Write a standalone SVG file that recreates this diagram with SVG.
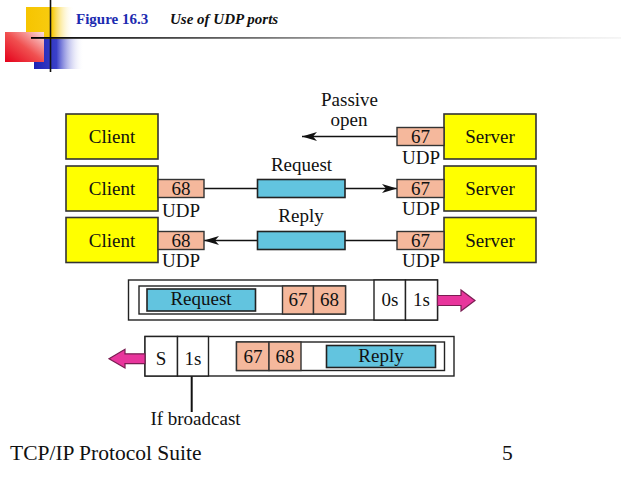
<svg xmlns="http://www.w3.org/2000/svg" width="638" height="478" viewBox="0 0 638 478">
<defs>
<linearGradient id="gY" x1="0" y1="0" x2="1" y2="0"><stop offset="0" stop-color="#f6c400"/><stop offset="0.55" stop-color="#f8cc10"/><stop offset="1" stop-color="#ffffff" stop-opacity="0"/></linearGradient>
<linearGradient id="gR" x1="0" y1="1" x2="1" y2="0"><stop offset="0" stop-color="#e4001a"/><stop offset="0.5" stop-color="#f05050"/><stop offset="1" stop-color="#fbe0e0"/></linearGradient>
<linearGradient id="gB" x1="0" y1="0" x2="1" y2="0"><stop offset="0" stop-color="#1c22b4"/><stop offset="0.45" stop-color="#3a40c8"/><stop offset="1" stop-color="#ffffff" stop-opacity="0"/></linearGradient>
<linearGradient id="gL" x1="0" y1="0" x2="1" y2="0"><stop offset="0" stop-color="#000"/><stop offset="0.4" stop-color="#777"/><stop offset="1" stop-color="#ddd" stop-opacity="0.3"/></linearGradient>
<marker id="ah" markerUnits="userSpaceOnUse" markerWidth="15" markerHeight="10" refX="15" refY="5" orient="auto"><path d="M0,0.5 L15,5 L0,9.5 L4,5 z" fill="#111"/></marker>
<style>
.t{font-family:"Liberation Serif","Times New Roman",serif;font-size:19px;fill:#111;text-anchor:middle}
.box{fill:#ffff00;stroke:#333;stroke-width:1.6}
.port{fill:#f5b89c;stroke:#333;stroke-width:1.4}
.bar{fill:#62c4df;stroke:#222;stroke-width:1.6}
.frm{fill:#fff;stroke:#222;stroke-width:1.4}
.ln{stroke:#111;stroke-width:1.6;fill:none}
.pk{fill:#e8359c;stroke:#7a1d52;stroke-width:1.2}
</style>
</defs>
<rect width="638" height="478" fill="#fff"/>
<g id="decoration">
<rect x="26" y="7" width="48" height="33" fill="url(#gY)"/>
<rect x="34" y="39" width="50" height="30" fill="url(#gB)"/>
<rect x="5" y="32" width="39" height="30" fill="url(#gR)"/>
<line x1="50.5" y1="0" x2="50.5" y2="72" stroke="#111" stroke-width="1.6"/>
<rect x="31" y="37" width="590" height="1.8" fill="url(#gL)"/>
</g>
<g id="title">
<text x="76" y="24" font-family="Liberation Serif,serif" font-size="15" font-weight="bold" fill="#1c2bb0">Figure 16.3</text>
<text x="170" y="24" font-family="Liberation Serif,serif" font-size="15" font-weight="bold" font-style="italic" fill="#111">Use of UDP ports</text>
</g>
<g id="connectors">
<line class="ln" x1="397" y1="136.5" x2="302" y2="136.5" marker-end="url(#ah)"/>
<line class="ln" x1="204" y1="188.5" x2="258" y2="188.5"/>
<line class="ln" x1="345" y1="188.5" x2="397" y2="188.5" marker-end="url(#ah)"/>
<line class="ln" x1="397" y1="240.5" x2="344" y2="240.5"/>
<line class="ln" x1="258" y1="240.5" x2="204" y2="240.5" marker-end="url(#ah)"/>
<line x1="191.7" y1="376" x2="191.7" y2="412" stroke="#111" stroke-width="2"/>
</g>
<g id="client1"><rect class="box" x="66" y="114" width="92" height="45"/><text class="t" x="112" y="143">Client</text></g>
<g id="client2"><rect class="box" x="66" y="166" width="92" height="45"/><text class="t" x="112" y="195">Client</text>
<rect class="port" x="158" y="179.5" width="46" height="18"/><text class="t" x="181" y="195">68</text><text class="t" x="181" y="217">UDP</text></g>
<g id="client3"><rect class="box" x="66" y="217.5" width="92" height="45"/><text class="t" x="112" y="246.5">Client</text>
<rect class="port" x="158" y="231.5" width="46" height="18"/><text class="t" x="181" y="247">68</text><text class="t" x="181" y="267">UDP</text></g>
<g id="server1"><rect class="box" x="444" y="114" width="92" height="45"/><text class="t" x="490" y="143">Server</text>
<rect class="port" x="397" y="127.5" width="47" height="18"/><text class="t" x="420.5" y="143">67</text><text class="t" x="421" y="163.5">UDP</text></g>
<g id="server2"><rect class="box" x="444" y="166" width="92" height="45"/><text class="t" x="490" y="195">Server</text>
<rect class="port" x="397" y="179.5" width="47" height="18"/><text class="t" x="420.5" y="195">67</text><text class="t" x="421" y="215">UDP</text></g>
<g id="server3"><rect class="box" x="444" y="217.5" width="92" height="45"/><text class="t" x="490" y="246.5">Server</text>
<rect class="port" x="397" y="231.5" width="47" height="18"/><text class="t" x="420.5" y="247">67</text><text class="t" x="421" y="267">UDP</text></g>
<g id="passive-label"><text class="t" x="349.5" y="106">Passive</text><text class="t" x="349" y="126">open</text></g>
<g id="request-msg"><rect class="bar" x="257.5" y="179.5" width="87.5" height="18"/><text class="t" x="301.5" y="171">Request</text></g>
<g id="reply-msg"><rect class="bar" x="257.5" y="231.5" width="87.5" height="18"/><text class="t" x="301" y="222">Reply</text></g>
<g id="frame1">
<rect class="frm" x="128.5" y="280" width="309" height="40"/>
<rect class="frm" x="139" y="286" width="206.5" height="28"/>
<rect class="bar" x="147" y="289" width="108.5" height="22"/>
<text class="t" x="201" y="304.5">Request</text>
<rect class="port" x="282.5" y="286" width="31" height="28"/><text class="t" x="298" y="305.5">67</text>
<rect class="port" x="313.5" y="286" width="32" height="28"/><text class="t" x="329.5" y="305.5">68</text>
<rect class="frm" x="374" y="280" width="31.5" height="40"/><text class="t" x="390" y="306">0s</text>
<rect class="frm" x="405.5" y="280" width="32" height="40"/><text class="t" x="421.5" y="306">1s</text>
<polygon class="pk" points="437.5,295.5 461,295.5 461,290 475,300.5 461,311 461,305.5 437.5,305.5"/>
</g>
<g id="frame2">
<rect class="frm" x="145" y="336.5" width="309" height="39.5"/>
<rect class="frm" x="236.5" y="342" width="208" height="28.5"/>
<rect class="port" x="236.5" y="342" width="32.5" height="28.5"/><text class="t" x="253" y="362.5">67</text>
<rect class="port" x="269" y="342" width="32" height="28.5"/><text class="t" x="285" y="362.5">68</text>
<rect class="bar" x="326.5" y="345.5" width="109" height="22"/><text class="t" x="381" y="361.5">Reply</text>
<rect class="frm" x="145" y="336.5" width="32.5" height="39.5"/><text class="t" x="161" y="365">S</text>
<rect class="frm" x="177.5" y="336.5" width="31" height="39.5"/><text class="t" x="193" y="365">1s</text>
<polygon class="pk" points="145,353.8 125,353.8 125,349.3 109,358.7 125,368 125,363.6 145,363.6"/>
</g>
<g id="broadcast-label"><text class="t" x="195.5" y="424.5">If broadcast</text></g>
<g id="footer">
<text x="10" y="460" font-family="Liberation Serif,serif" font-size="21.5" fill="#111">TCP/IP Protocol Suite</text>
<text x="502" y="460" font-family="Liberation Serif,serif" font-size="21.5" fill="#111">5</text>
</g>
</svg>
